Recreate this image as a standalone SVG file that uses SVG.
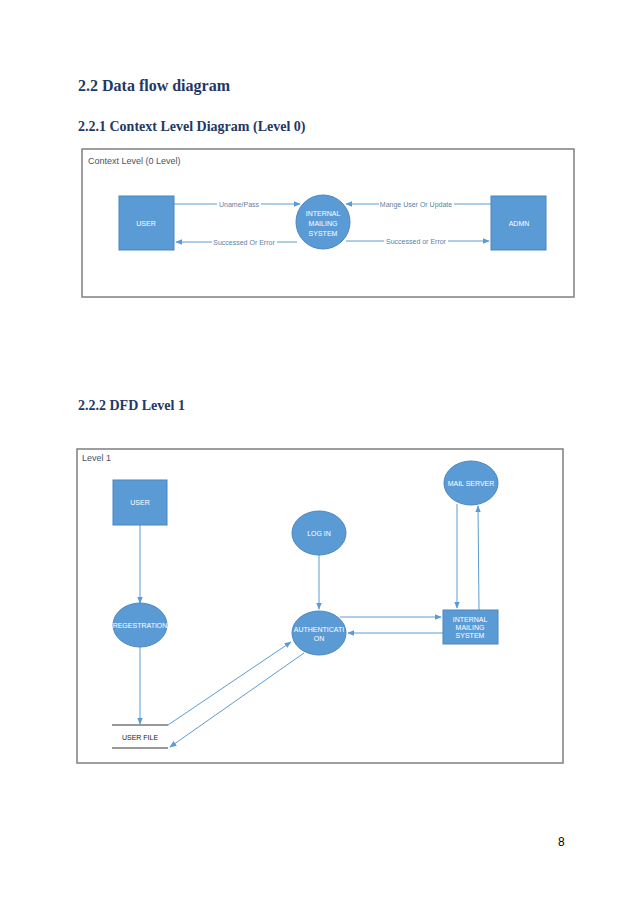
<svg xmlns="http://www.w3.org/2000/svg" width="638" height="902" viewBox="0 0 638 902">
<style>
.h{font-family:"Liberation Serif","DejaVu Serif",serif;font-weight:bold;fill:#1f3864}
.n{fill:#5b9bd5;stroke:#4a86c0;stroke-width:1}
.t{font-family:"Liberation Sans",Arial,sans-serif;font-size:7px;fill:#fff;text-anchor:middle}
.l{font-family:"Liberation Sans",Arial,sans-serif;font-size:7px;fill:#5a7fa8;text-anchor:middle}
.c{stroke:#5b9bd5;stroke-width:1;fill:none;marker-end:url(#a)}
.f{fill:#fff;stroke:#7f7f7f;stroke-width:1.5}
</style>
<defs><marker id="a" viewBox="0 0 10 10" refX="9" refY="5" markerWidth="7" markerHeight="7" orient="auto"><path d="M0,1 L10,5 L0,9 z" fill="#5b9bd5"/></marker></defs>
<rect width="638" height="902" fill="#fff"/>
<text class="h" x="78" y="91" font-size="16">2.2 Data flow diagram</text>
<text class="h" x="78" y="131" font-size="14">2.2.1 Context Level Diagram (Level 0)</text>
<text class="h" x="78" y="410" font-size="14">2.2.2 DFD Level 1</text>
<text x="558" y="846" font-family="Liberation Sans,sans-serif" font-size="12">8</text>
<rect class="f" x="82" y="149" width="492" height="148"/>
<text x="88" y="164" font-family="Liberation Sans,sans-serif" font-size="9" fill="#44546a">Context Level (0 Level)</text>
<g id="connectors0">
<path class="c" d="M174,204 H300"/><path class="c" d="M297,242 H176"/>
<path class="c" d="M491,204 H346"/><path class="c" d="M346,241 H489"/>
<rect x="217" y="200" width="44" height="8" fill="#fff"/><text class="l" x="239" y="206.5">Uname/Pass</text>
<rect x="212" y="238" width="65" height="8" fill="#fff"/><text class="l" x="244" y="244.5">Successed Or Error</text>
<rect x="379" y="200" width="75" height="8" fill="#fff"/><text class="l" x="416" y="206.5">Mange User Or Update</text>
<rect x="384" y="237" width="64" height="8" fill="#fff"/><text class="l" x="416" y="243.5">Successed or Error</text>
</g>
<g id="user0"><rect class="n" x="119" y="196" width="55" height="54"/><text class="t" x="146" y="226">USER</text></g>
<g id="ims0"><circle class="n" cx="323" cy="222" r="27"/><text class="t" x="323" y="216">INTERNAL</text><text class="t" x="323" y="226">MAILING</text><text class="t" x="323" y="236">SYSTEM</text></g>
<g id="admn0"><rect class="n" x="491" y="196" width="55" height="54"/><text class="t" x="519" y="226">ADMN</text></g>
<rect class="f" x="77" y="449" width="486" height="314"/>
<text x="82" y="461" font-family="Liberation Sans,sans-serif" font-size="9" fill="#44546a">Level 1</text>
<g id="connectors1">
<path class="c" d="M140,525 V603"/><path class="c" d="M140,647 V724"/>
<path class="c" d="M319,555 V609"/>
<path class="c" d="M340,617 H441"/><path class="c" d="M443,633 H348"/>
<path class="c" d="M457,504 V608"/><path class="c" d="M479,610 L478,506"/>
<path class="c" d="M168,725 L291,642"/><path class="c" d="M304,653 L170,747"/>
</g>
<g id="user1"><rect class="n" x="113" y="480" width="54" height="45"/><text class="t" x="140" y="505">USER</text></g>
<g id="reg"><ellipse class="n" cx="140" cy="625" rx="27" ry="22"/><text class="t" x="140" y="628">REGESTRATION</text></g>
<g id="userfile"><path d="M112,725 H168 M112,748 H168" stroke="#333" stroke-width="1"/><text x="140" y="740" font-family="Liberation Sans,sans-serif" font-size="7" text-anchor="middle" fill="#222">USER FILE</text></g>
<g id="login"><ellipse class="n" cx="319" cy="533" rx="27" ry="22"/><text class="t" x="319" y="536">LOG IN</text></g>
<g id="auth"><ellipse class="n" cx="319" cy="633" rx="27" ry="22"/><text class="t" x="319" y="632">AUTHENTICATI</text><text class="t" x="319" y="641">ON</text></g>
<g id="mail"><ellipse class="n" cx="471" cy="483" rx="27" ry="22"/><text class="t" x="471" y="486">MAIL SERVER</text></g>
<g id="ims1"><rect class="n" x="443" y="610" width="55" height="34"/><text class="t" x="470" y="622">INTERNAL</text><text class="t" x="470" y="630">MAILING</text><text class="t" x="470" y="638">SYSTEM</text></g>
</svg>
